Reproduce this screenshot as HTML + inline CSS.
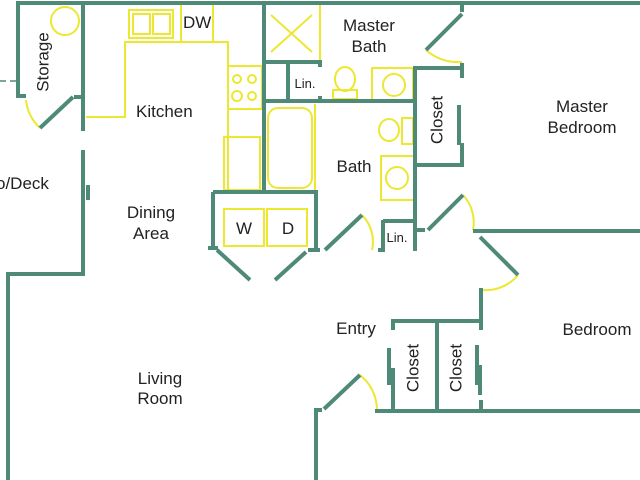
<!DOCTYPE html>
<html><head><style>
html,body{margin:0;padding:0;background:#fff;}
svg{display:block;}
text{font-family:"Liberation Sans",sans-serif;font-size:17px;fill:#222;}
.w{stroke:#4e8a77;stroke-width:4;fill:none;stroke-linecap:butt;}
.y{stroke:#ece830;stroke-width:2;fill:none;}
</style></head><body>
<svg width="640" height="480" viewBox="0 0 640 480">
<g class="y">
<circle cx="65" cy="21" r="14"/>
<rect x="129" y="10" width="44" height="28"/><rect x="133" y="14" width="17" height="20"/><rect x="153" y="14" width="17" height="20"/>
<line x1="181" y1="4" x2="181" y2="42"/><line x1="213" y1="4" x2="213" y2="42"/>
<polyline points="86,117 125,117 125,42 228,42 228,137"/>
<rect x="228" y="66" width="34" height="43"/><circle cx="237" cy="79" r="4"/><circle cx="252" cy="79" r="4"/><circle cx="237" cy="96" r="5"/><circle cx="252" cy="96" r="4"/>
<rect x="224" y="137" width="36" height="53"/><line x1="228" y1="137" x2="228" y2="190"/>
<rect x="268" y="108" width="44" height="80" rx="10"/><line x1="315" y1="104" x2="315" y2="190"/>
<line x1="271" y1="15" x2="312" y2="52"/><line x1="312" y1="15" x2="271" y2="52"/><line x1="320" y1="4" x2="320" y2="62"/>
<ellipse cx="345" cy="79" rx="10" ry="12"/><rect x="333" y="90" width="24" height="9"/>
<rect x="372" y="68" width="41" height="33"/><circle cx="394" cy="85" r="11"/>
<ellipse cx="389" cy="130" rx="10" ry="11"/><rect x="402" y="118" width="11" height="26"/>
<rect x="381" y="156" width="34" height="44"/><circle cx="397" cy="178" r="11"/>
<rect x="224" y="209" width="40" height="37"/><rect x="267" y="209" width="40" height="37"/>
<path d="M40,128 A45,45 0 0 1 26,100"/>
<path d="M362,215 A38,38 0 0 1 372,250"/>
<path d="M426,50 A48,48 0 0 0 462,62"/>
<path d="M463,195 A40,40 0 0 1 473,230"/>
<path d="M518,275 A42,42 0 0 1 482,290"/>
<path d="M360,375 A45,45 0 0 1 377,410"/>
</g>
<g class="w">
<line x1="16" y1="3" x2="640" y2="3"/>
<line x1="18" y1="3" x2="18" y2="97"/><line x1="16" y1="96" x2="26" y2="96"/>
<line x1="83" y1="3" x2="83" y2="131"/><line x1="74" y1="97" x2="83" y2="97"/>
<line x1="40" y1="128" x2="73" y2="97"/>
<line x1="83" y1="150" x2="83" y2="276"/><line x1="88" y1="185" x2="88" y2="200"/>
<line x1="6" y1="274" x2="85" y2="274"/><line x1="8" y1="272" x2="8" y2="480"/>
<line x1="264" y1="3" x2="264" y2="194"/>
<line x1="264" y1="62" x2="322" y2="62"/><line x1="320" y1="60" x2="320" y2="67"/>
<line x1="288" y1="62" x2="288" y2="101"/><line x1="320" y1="96" x2="320" y2="101"/>
<line x1="264" y1="101" x2="417" y2="101"/>
<line x1="213" y1="192" x2="318" y2="192"/><line x1="213" y1="192" x2="213" y2="248"/><line x1="316" y1="190" x2="316" y2="250"/>
<line x1="208" y1="248" x2="218" y2="248"/><line x1="308" y1="250" x2="320" y2="250"/>
<line x1="217" y1="250" x2="250" y2="280"/><line x1="306" y1="252" x2="275" y2="280"/>
<line x1="325" y1="250" x2="362" y2="215"/>
<line x1="383" y1="220" x2="383" y2="252"/><line x1="378" y1="250" x2="385" y2="250"/><line x1="383" y1="221" x2="415" y2="221"/>
<line x1="415" y1="66" x2="415" y2="251"/>
<line x1="415" y1="68" x2="464" y2="68"/><line x1="462" y1="63" x2="462" y2="78"/>
<line x1="415" y1="165" x2="464" y2="165"/><line x1="462" y1="143" x2="462" y2="167"/>
<line x1="459" y1="105" x2="459" y2="145"/>
<line x1="462" y1="3" x2="462" y2="12"/><line x1="426" y1="50" x2="462" y2="14"/>
<line x1="415" y1="230" x2="425" y2="230"/><line x1="428" y1="230" x2="463" y2="195"/>
<line x1="473" y1="231" x2="640" y2="231"/><line x1="480" y1="237" x2="518" y2="275"/>
<line x1="481" y1="288" x2="481" y2="330"/>
<line x1="392" y1="321" x2="483" y2="321"/><line x1="393" y1="319" x2="393" y2="330"/>
<line x1="437" y1="321" x2="437" y2="411"/>
<line x1="481" y1="400" x2="481" y2="411"/><line x1="477" y1="345" x2="477" y2="385"/><line x1="480" y1="365" x2="480" y2="395"/>
<line x1="389" y1="348" x2="389" y2="385"/><line x1="393" y1="368" x2="393" y2="411"/>
<line x1="375" y1="411" x2="640" y2="411"/>
<line x1="316" y1="410" x2="316" y2="480"/><line x1="314" y1="410" x2="322" y2="410"/>
<line x1="324" y1="409" x2="360" y2="375"/>
</g>
<line x1="0" y1="81" x2="16" y2="81" stroke="#4e8a77" stroke-width="1.5" stroke-dasharray="6,4"/>
<text x="44" y="62" transform="rotate(-90 44 62)" text-anchor="middle" dominant-baseline="middle">Storage</text>
<text x="183" y="28">DW</text>
<text x="136" y="117">Kitchen</text>
<text x="-4" y="189">o/Deck</text>
<text x="151" y="218" text-anchor="middle">Dining</text>
<text x="151" y="239" text-anchor="middle">Area</text>
<text x="244" y="234" text-anchor="middle">W</text>
<text x="288" y="234" text-anchor="middle">D</text>
<text x="369" y="31" text-anchor="middle">Master</text>
<text x="369" y="52" text-anchor="middle">Bath</text>
<text x="305" y="88" text-anchor="middle" style="font-size:13px">Lin.</text>
<text x="354" y="172" text-anchor="middle">Bath</text>
<text x="397" y="242" text-anchor="middle" style="font-size:13px">Lin.</text>
<text x="438" y="120" transform="rotate(-90 438 120)" text-anchor="middle" dominant-baseline="middle">Closet</text>
<text x="582" y="112" text-anchor="middle">Master</text>
<text x="582" y="133" text-anchor="middle">Bedroom</text>
<text x="356" y="334" text-anchor="middle">Entry</text>
<text x="597" y="335" text-anchor="middle">Bedroom</text>
<text x="414" y="368" transform="rotate(-90 414 368)" text-anchor="middle" dominant-baseline="middle">Closet</text>
<text x="457" y="368" transform="rotate(-90 457 368)" text-anchor="middle" dominant-baseline="middle">Closet</text>
<text x="160" y="384" text-anchor="middle">Living</text>
<text x="160" y="404" text-anchor="middle">Room</text>
</svg>
</body></html>
